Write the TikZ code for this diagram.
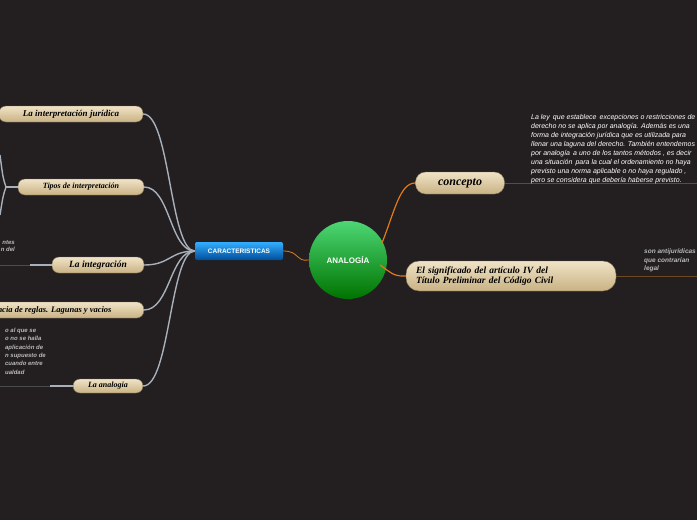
\documentclass[tikz,border=0pt]{standalone}
\usepackage{fontspec}
\setsansfont{Liberation Sans}
\setmainfont{Liberation Serif}
\usetikzlibrary{shadings}
\definecolor{bg}{HTML}{231F20}
\definecolor{beige}{HTML}{E9D7AE}
\definecolor{beiged}{HTML}{C9B284}
\definecolor{lgray}{HTML}{A7B0BB}
\definecolor{orng}{HTML}{E07B18}
\definecolor{brn}{HTML}{6B4A22}
\definecolor{txtg}{HTML}{B9B9B9}
\begin{document}
\begin{tikzpicture}[x=1pt,y=-1pt,
  topic/.style={rounded corners=7pt,top color=beige!70!white,bottom color=beiged,draw=beiged!60!black,line width=0.4pt,
    font=\rmfamily\bfseries\itshape\fontsize{9}{10}\selectfont,text=black,inner sep=0pt,minimum height=16pt},
  gl/.style={lgray,line width=1.4pt},
  ol/.style={orng,line width=1.2pt},
  note/.style={font=\sffamily\itshape\fontsize{7}{9}\selectfont,text=white,align=left,inner sep=0pt}]
\fill[bg] (0,0) rectangle (697,520);
\useasboundingbox (0,0) rectangle (697,520);
\clip (0,0) rectangle (697,520);
% center
\node[circle,minimum size=78pt,inner sep=0pt,top color=green!55!teal!70!white,bottom color=green!45!black,
  font=\sffamily\bfseries\fontsize{8}{9}\selectfont,text=white] (c) at (348,260) {ANALOGÍA};
\node[rounded corners=2pt,top color=cyan!60!blue!80!white,bottom color=blue!50!cyan!60!black,minimum width=88pt,minimum height=18pt,inner sep=0pt,
  font=\sffamily\bfseries\fontsize{6.5}{7}\selectfont,text=white] (car) at (239,251) {CARACTERISTICAS};
% left topics
\node[topic,minimum width=144pt] (t1) at (71,114) {La interpretación jurídica};
\node[topic,minimum width=126pt,font=\rmfamily\bfseries\itshape\fontsize{8}{9}\selectfont] (t2) at (81,187) {Tipos de interpretación};
\node[topic,minimum width=92pt,font=\rmfamily\bfseries\itshape\fontsize{9.5}{10}\selectfont] (t3) at (98,265) {La integración};
\node[topic,minimum width=196pt,anchor=east,font=\rmfamily\bfseries\itshape\fontsize{8.5}{9}\selectfont] (t4) at (144,310) {Ausencia de reglas. Lagunas y vacios};
\node[topic,minimum width=70pt,minimum height=14pt,font=\rmfamily\bfseries\itshape\fontsize{8}{8.5}\selectfont] (t5) at (108,386) {La analogia};
% right topics
\node[topic,minimum width=89pt,minimum height=22pt,rounded corners=10pt,font=\rmfamily\bfseries\itshape\fontsize{12}{13}\selectfont] (r1) at (460,183) {concepto};
\node[topic,minimum width=210pt,minimum height=30pt,rounded corners=13pt,align=left,text width=190pt,font=\rmfamily\bfseries\itshape\fontsize{9.5}{9.5}\selectfont] (r2) at (511,276) {El significado del artículo IV del\\Título Preliminar del Código Civil};
% connectors
\draw[orng,line width=0.8pt] (car.east) .. controls (300,251) and (295,262) .. (c.west);
\draw[ol] (382,243) .. controls (395,210) and (400,183) .. (r1.west);
\draw[ol] (380,265) .. controls (395,276) and (395,276) .. (r2.west);
\foreach \t in {t1,t2,t3,t4,t5}
  \draw[gl] (car.west) .. controls (170,251) and (170,0|-\t.east) .. (\t.east);
\draw[brn,line width=1pt] (r1.east) -- (697,183);
\draw[brn,line width=1pt] (r2.east) -- (697,276);
\draw[gl] (t3.west) -- (30,265);
\draw[gray!60!black,line width=1pt] (30,265) -- (0,265);
\draw[gl] (t5.west) -- (50,386);
\draw[gray!60!black,line width=1pt] (50,386) -- (0,386);
\draw[gl] (t2.west) -- (6,187) coordinate (tb);
\draw[gl] (tb) .. controls (3,178) .. (0,155);
\draw[gl] (tb) .. controls (3,196) .. (0,215);
% notes
\node[note,anchor=north west] (n1) at (531,114) {La ley\, que establece\, excepciones o restricciones de\\derecho no se aplica por analogía. Además es una\\forma de integración jurídica que es utilizada para\\llenar una laguna del derecho. También entendemos\\por analogía\, a uno de los tantos métodos , es decir\\una situación\, para la cual el ordenamiento no haya\\previsto una norma aplicable o no haya regulado ,\\pero se considera que debería haberse previsto.};
\node[note,anchor=north west,text=txtg,font=\sffamily\bfseries\itshape\fontsize{6.5}{8.5}\selectfont] (n2) at (644,249) {son antijurídicas\\que contrarían\\legal};
\node[note,anchor=north east,text=txtg,align=right,font=\sffamily\bfseries\itshape\fontsize{6}{7.5}\selectfont] (n3) at (15,240) {ntes\\n del};
\node[note,anchor=north east,text=txtg,align=left,font=\sffamily\bfseries\itshape\fontsize{6}{8.3}\selectfont] (n4) at (46,328) {o al que se\\o no se halla\\aplicación de\\n supuesto de\\cuando entre\\ualdad};
\end{tikzpicture}
\end{document}
